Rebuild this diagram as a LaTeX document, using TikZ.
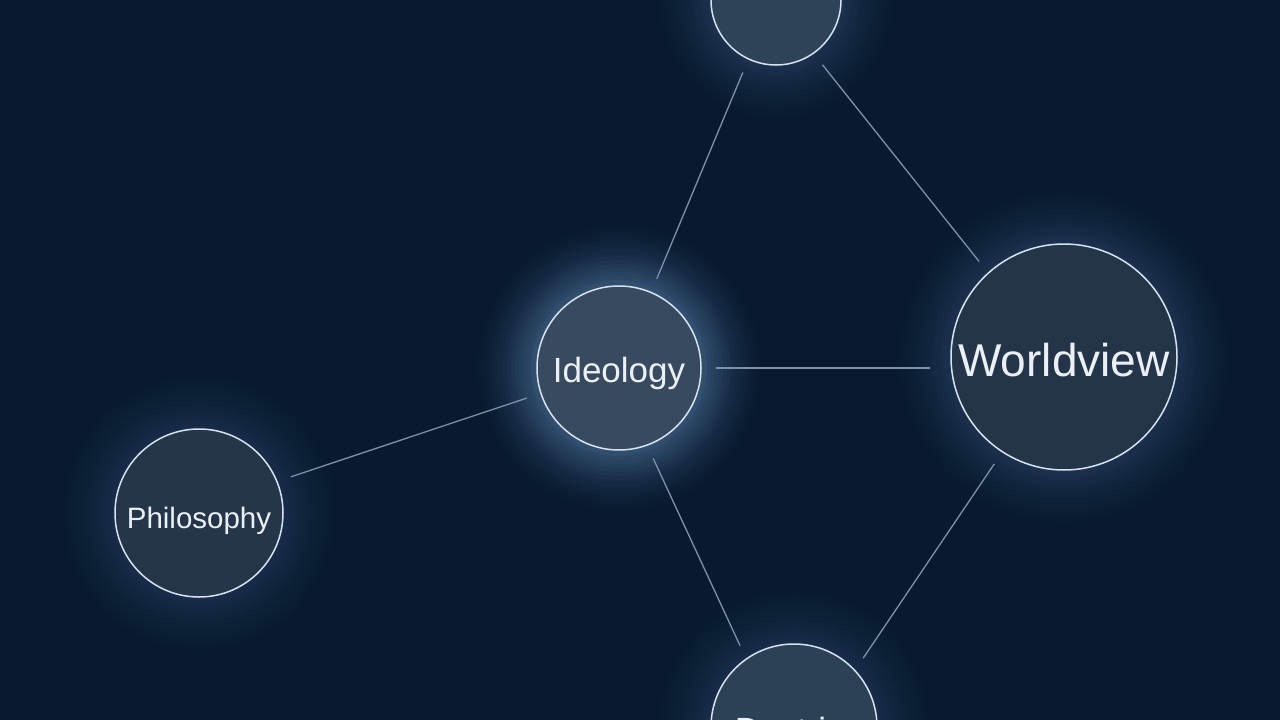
\documentclass[tikz,border=0pt]{standalone}
\usepackage{fontspec}
\setmainfont{Liberation Sans}
\definecolor{bg}{RGB}{9,26,48}
\definecolor{ringc}{RGB}{215,226,238}
\definecolor{linec}{RGB}{125,145,170}
\definecolor{glowc}{RGB}{120,165,210}
\definecolor{fillA}{RGB}{56,74,96}
\definecolor{fillB}{RGB}{36,52,73}
\definecolor{fillC}{RGB}{38,54,74}
\definecolor{fillD}{RGB}{46,66,88}
\definecolor{txtc}{RGB}{235,240,246}
\tikzset{
  concept/.style={circle, draw=ringc, line width=1.5pt, text=txtc, inner sep=0pt},
  conn/.style={draw=linec, line width=1.3pt, shorten >=14pt, shorten <=14pt},
}
\newcommand{\glowring}[4]{% x, y, radius, strength
  \foreach \k in {2,6,...,70}{
    \fill[glowc, opacity=#4*(1-\k/72)] (#1,#2) circle ({#3+\k});
  }
}
\begin{document}
\begin{tikzpicture}[x=1pt,y=-1pt]
\fill[bg] (0,0) rectangle (1280,720);
\useasboundingbox (0,0) rectangle (1280,720);
\clip (0,0) rectangle (1280,720);
% glows
\glowring{776}{0}{65}{0.03}
\glowring{619}{368}{82}{0.065}
\glowring{1064}{357}{113}{0.03}
\glowring{199}{513}{84}{0.025}
\glowring{794}{727}{83}{0.025}
% nodes
\node[concept, fill=fillD, minimum size=130pt] (top) at (776,0) {};
\node[concept, fill=fillA, minimum size=164pt, text height=28pt, text depth=0pt, font=\fontsize{35}{40}\selectfont] (ideo) at (619,368) {Ideology};
\node[concept, fill=fillB, minimum size=226pt, text height=38pt, text depth=0pt, font=\fontsize{46}{52}\selectfont] (world) at (1064,357) {Worldview};
\node[concept, fill=fillC, minimum size=168pt, text height=30pt, text depth=0pt, font=\fontsize{29.5}{34}\selectfont] (phil) at (199,513) {Philosophy};
\node[concept, fill=fillD!85!fillB, minimum size=166pt] (doct) at (794,727) {};
\node[text=txtc, font=\fontsize{35}{40}\selectfont, anchor=base] (doctxt) at (800,742) {Doctrine};
% connectors
\draw[conn] (ideo.67) -- (top.245);
\draw[conn] (top.305) -- (world.132);
\draw[conn, shorten >=20pt] (ideo.0) -- (world.180 |- ideo.0);
\draw[conn] (phil.22) -- (ideo.198);
\draw[conn] (ideo.290) -- (doct.125);
\draw[conn] (world.237) -- (doct.43);
\end{tikzpicture}
\end{document}
